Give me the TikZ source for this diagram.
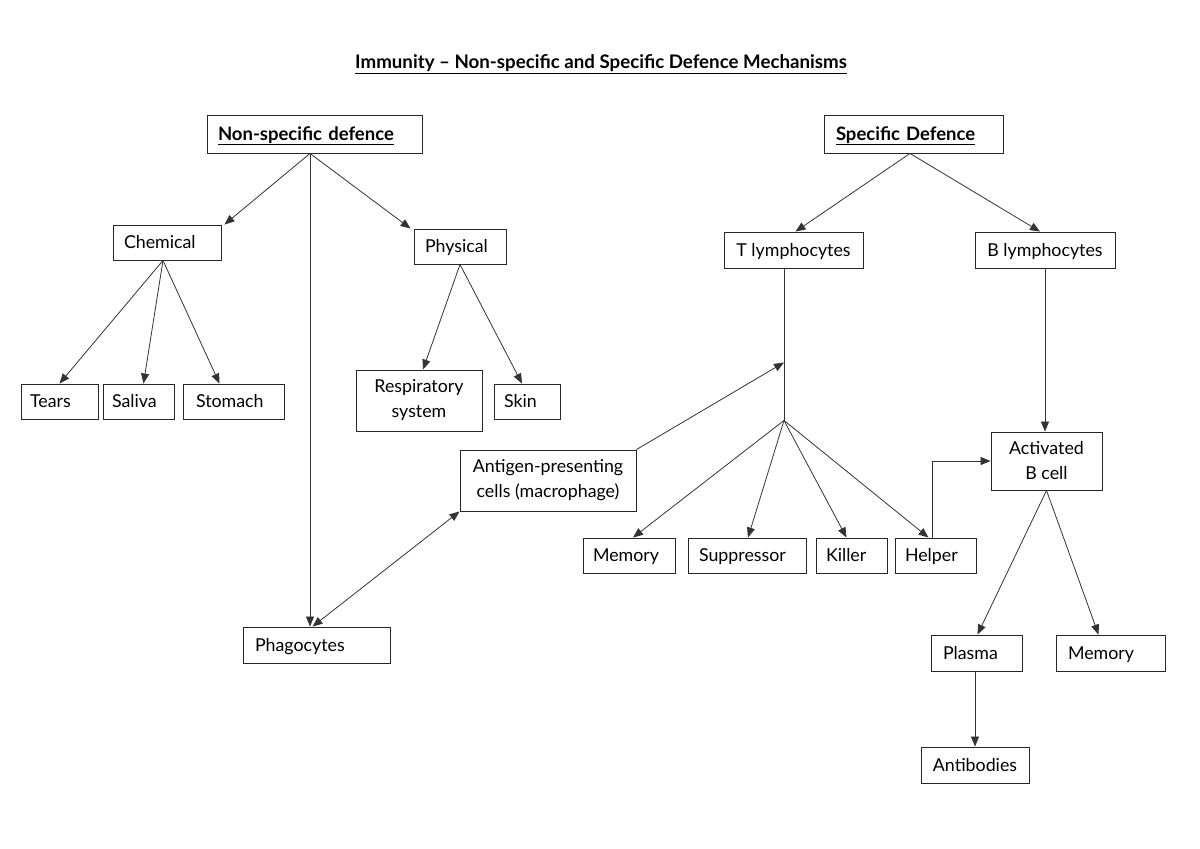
\documentclass[tikz,border=0pt]{standalone}
\usepackage{fontspec}
\setmainfont{Lato}
\usetikzlibrary{arrows.meta,calc}
\begin{document}
\begin{tikzpicture}[x=1pt,y=-1pt,
  box/.style={draw=black!85, line width=0.9pt, inner ysep=0pt, font=\fontsize{17.8}{25}\selectfont},
  lbox/.style={box, inner xsep=11pt, align=left, text height=13pt, text depth=1pt},
  cbox/.style={box, inner xsep=4pt, align=center},
  sbox/.style={cbox, text height=13pt, text depth=1pt},
  arr/.style={draw=black!80, line width=0.8pt, -{Triangle[length=10pt,width=8pt]}},
  ln/.style={draw=black!80, line width=0.8pt},
  darr/.style={draw=black!80, line width=0.8pt, {Triangle[length=10pt,width=8pt]}-{Triangle[length=10pt,width=8pt]}},
  ttl/.style={font=\fontsize{18.7}{22}\selectfont\bfseries, inner sep=0pt},
  hd/.style={font=\fontsize{18.5}{22}\selectfont\bfseries}
]
\useasboundingbox (0,0) rectangle (1200,849);

% title
\node[ttl] (title) at (601,64) {\underline{Immunity – Non-specific and Specific Defence Mechanisms}};

% left tree
\node[lbox, hd, text width=193pt, minimum height=38pt] (nsd) at (314.5,134) {\underline{Non-specific defence}};
\node[lbox, text width=86pt, minimum height=35pt] (chem) at (167,242.5) {Chemical};
\node[lbox, text width=70pt, minimum height=35pt] (phys) at (460,246.5) {Physical};
\node[lbox, inner xsep=9pt, text width=59pt, minimum height=35pt] (tears) at (59.5,401.5) {Tears};
\node[lbox, inner xsep=9pt, text width=53pt, minimum height=35pt] (saliva) at (138.5,401.5) {Saliva};
\node[lbox, inner xsep=13pt, text width=75pt, minimum height=35pt] (stomach) at (233.5,401.5) {Stomach};
\node[cbox, minimum width=126pt, minimum height=61pt] (resp) at (419,400.5) {Respiratory\\system};
\node[lbox, inner xsep=10pt, text width=46pt, minimum height=35pt] (skin) at (527,401.5) {Skin};
\node[lbox, inner xsep=12pt, text width=123pt, minimum height=36pt] (phag) at (316.5,645) {Phagocytes};
\node[cbox, minimum width=176pt, minimum height=61pt] (apc) at (548,480.5) {Antigen-presenting\\cells (macrophage)};

% right tree
\node[lbox, hd, inner xsep=12pt, text width=155pt, minimum height=38pt] (sd) at (913.5,134) {\underline{Specific Defence}};
\node[sbox, minimum width=139pt, minimum height=36pt] (tl) at (793.5,250) {T lymphocytes};
\node[sbox, minimum width=140pt, minimum height=36pt] (bl) at (1045,250) {B lymphocytes};
\node[lbox, inner xsep=10pt, text width=72pt, minimum height=35pt] (memT) at (629,555.5) {Memory};
\node[lbox, inner xsep=11pt, text width=96pt, minimum height=35pt] (supp) at (747,555.5) {Suppressor};
\node[lbox, inner xsep=10pt, text width=51pt, minimum height=35pt] (killer) at (851.5,555.5) {Killer};
\node[lbox, inner xsep=10pt, text width=61pt, minimum height=35pt] (helper) at (935.5,555.5) {Helper};
\node[cbox, minimum width=111pt, minimum height=58pt] (actB) at (1046.5,461) {Activated\\B cell};
\node[lbox, inner xsep=12pt, text width=67pt, minimum height=36pt] (plasma) at (976.5,653) {Plasma};
\node[lbox, inner xsep=12pt, text width=85pt, minimum height=36pt] (memB) at (1110.5,653) {Memory};
\node[sbox, minimum width=108pt, minimum height=36pt] (antib) at (975,765) {Antibodies};

% coordinates
\coordinate (nsdO) at ($(nsd.south)+(-4.5,0)$);
\coordinate (chemO) at ($(chem.south)+(-4,0)$);
\coordinate (tlO) at ($(tl.south)+(-9.5,0)$);
\coordinate (tJoin) at ($(tlO)+(0,94)$);
\coordinate (tFork) at ($(tlO)+(0,152)$);
\coordinate (sdO) at ($(sd.south)+(-3.5,0)$);

% left connectors
\draw[arr] (nsdO) -- ($(chem.north east)+(3,0)$);
\draw[arr] (nsdO) -- ($(phys.north west)+(-3,0)$);
\draw[arr] (nsdO) -- (nsdO |- phag.north);
\draw[arr] (chemO) -- (tears.north);
\draw[arr] (chemO) -- ($(saliva.north)+(5,0)$);
\draw[arr] (chemO) -- ($(stomach.north)+(-14,0)$);
\draw[arr] (phys.south) -- ($(resp.north)+(4,0)$);
\draw[arr] (phys.south) -- ($(skin.north)+(-5,0)$);
\draw[darr] ($(phag.north)+(-4,0)$) -- (apc.south west);

% right connectors
\draw[arr] (sdO) -- ($(tl.north)+(2,0)$);
\draw[arr] (sdO) -- ($(bl.north)+(-5,0)$);
\draw[ln] (tlO) -- (tFork);
\draw[arr] (apc.north east) -- (tJoin);
\draw[arr] (tFork) -- ($(memT.north)+(4,0)$);
\draw[arr] (tFork) -- ($(supp.north)+(1,0)$);
\draw[arr] (tFork) -- ($(killer.north)+(-5,0)$);
\draw[arr] (tFork) -- ($(helper.north)+(-7,0)$);
\draw[arr] ($(helper.north)+(-3,0)$) |- (actB.west);
\draw[arr] (bl.south) -- (bl.south |- actB.north);
\draw[arr] (actB.south) -- ($(plasma.north)+(1,0)$);
\draw[arr] (actB.south) -- ($(memB.north)+(-12,0)$);
\draw[arr] ($(plasma.south)+(-1.5,0)$) -- (antib.north);
\end{tikzpicture}
\end{document}
